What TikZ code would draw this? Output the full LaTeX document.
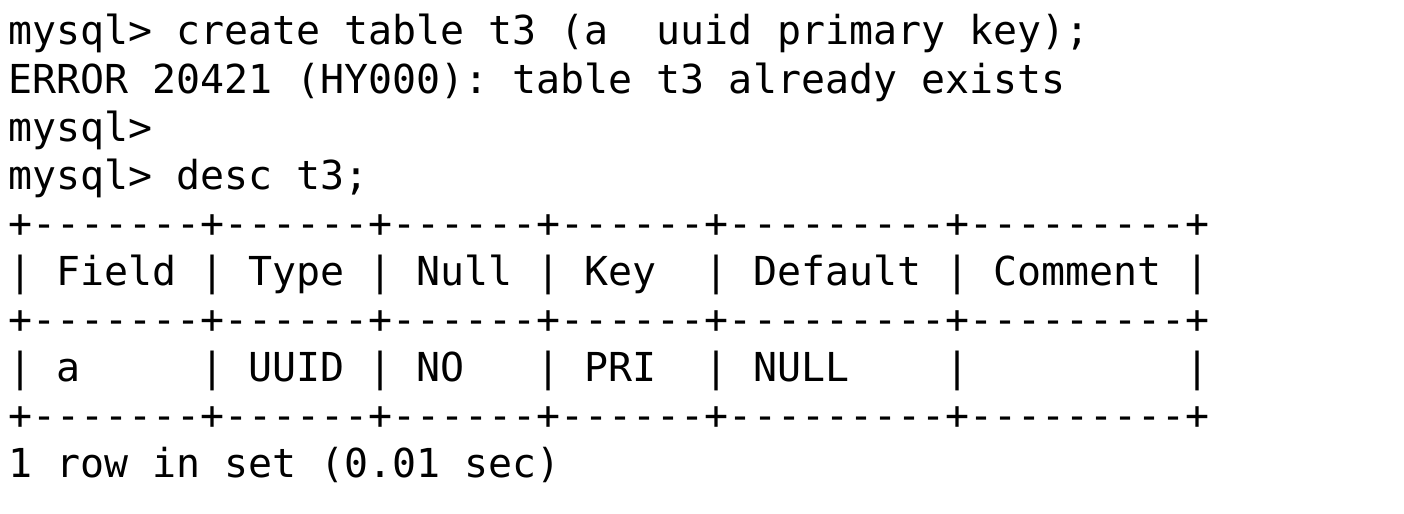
\documentclass[tikz,border=0pt]{standalone}
\usepackage{fontspec}
\setmonofont{DejaVu Sans Mono}
\usetikzlibrary{positioning}
\tikzset{
    termline/.style={anchor=base west, inner sep=0pt, font=\ttfamily\fontsize{19.95}{24}\selectfont}
}
\begin{document}
\begin{tikzpicture}[x=1pt, y=1pt]
    \useasboundingbox[fill=white] (0,0) rectangle (702,-257);

    \node[termline] (l1) at (4,-22.5) {mysql>~create~table~t3~(a~~uuid~primary~key);};
    \node[termline] (l2) at (4,-46.5) {ERROR~20421~(HY000):~table~t3~already~exists};
    \node[termline] (l3) at (4,-70.5) {mysql>};
    \node[termline] (l4) at (4,-94.5) {mysql>~desc~t3;};
    \node[termline] (l5) at (4,-118.5) {+-------+------+------+------+---------+---------+};
    \node[termline] (l6) at (4,-142.5) {|~Field~|~Type~|~Null~|~Key~~|~Default~|~Comment~|};
    \node[termline] (l7) at (4,-166.5) {+-------+------+------+------+---------+---------+};
    \node[termline] (l8) at (4,-190.5) {|~a~~~~~|~UUID~|~NO~~~|~PRI~~|~NULL~~~~|~~~~~~~~~|};
    \node[termline] (l9) at (4,-214.5) {+-------+------+------+------+---------+---------+};
    \node[termline] (l10) at (4,-238.5) {1~row~in~set~(0.01~sec)};
\end{tikzpicture}
\end{document}
